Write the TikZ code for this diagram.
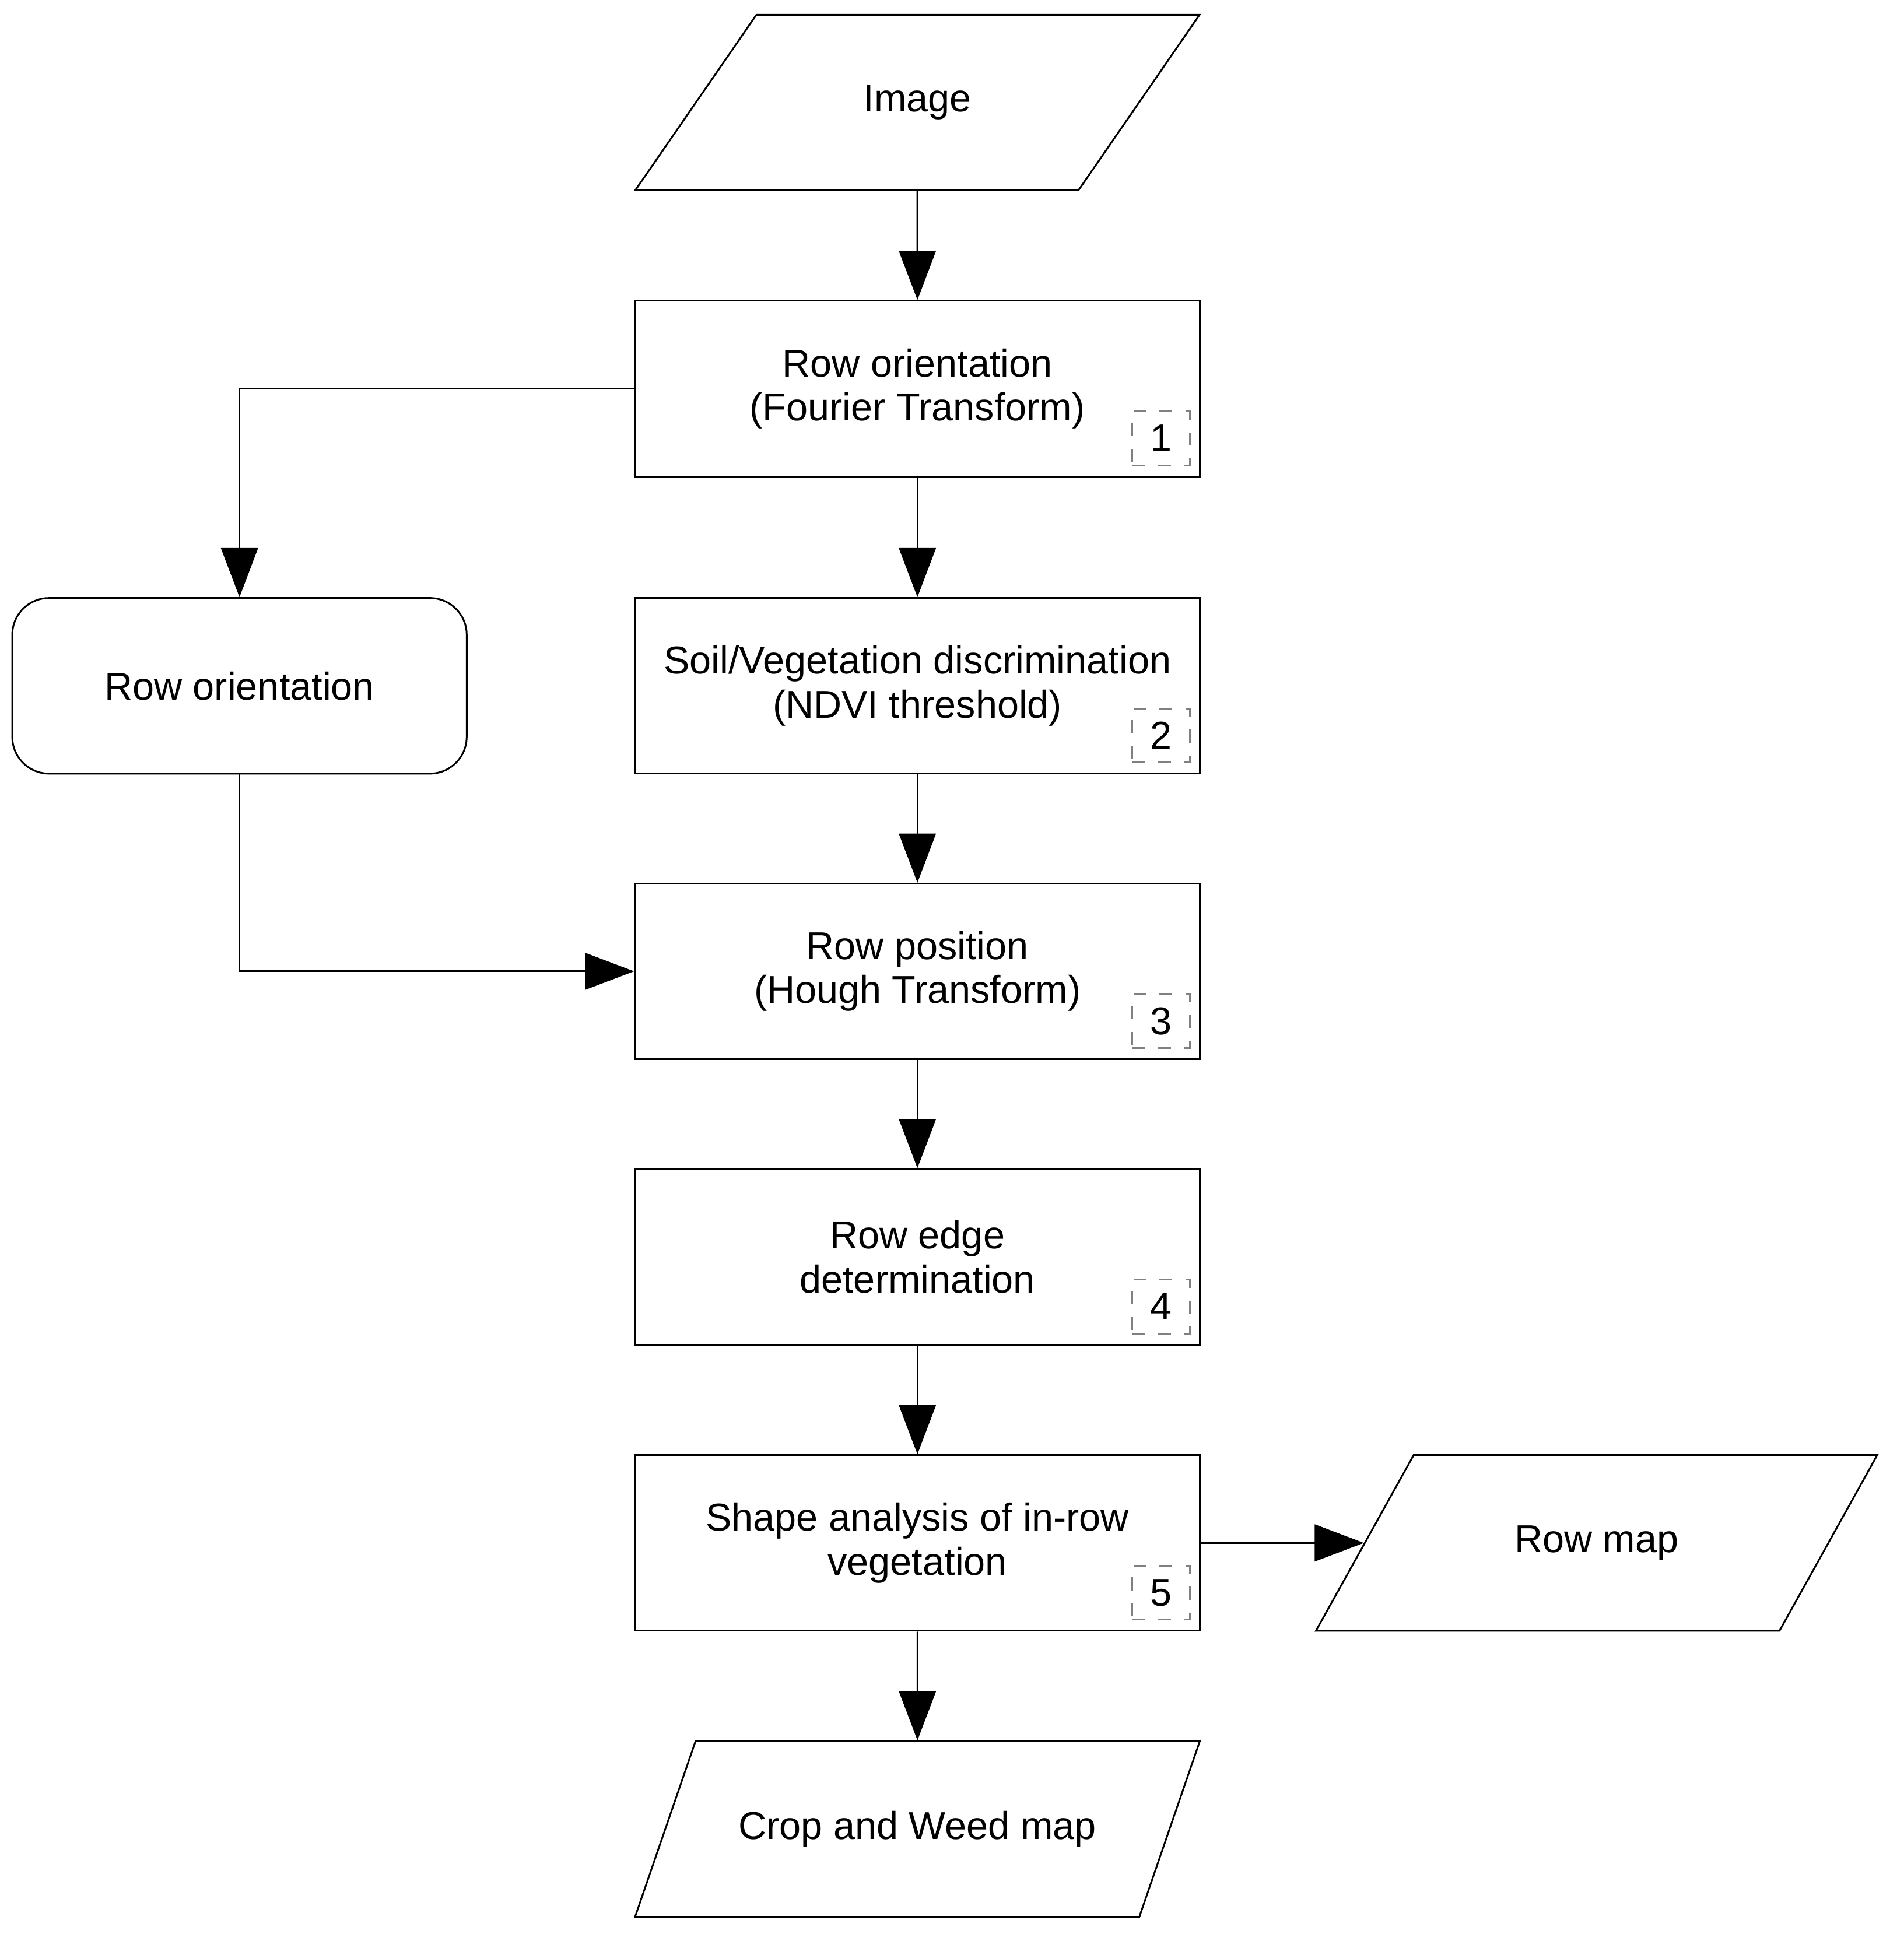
\documentclass[tikz,border=0pt]{standalone}
\usepackage{fontspec}
\setmainfont{Liberation Sans}
\usetikzlibrary{arrows.meta,positioning,shapes.geometric}

\begin{document}
\begin{tikzpicture}[
    font=\fontsize{9}{10.2}\selectfont,
    step-box/.style={draw, thin, minimum width=4.6cm, minimum height=1.43cm, align=center},
    io-box/.style={draw, thin, trapezium, trapezium left angle=51, trapezium right angle=129,
        trapezium stretches=true, minimum width=4.6cm, minimum height=1.43cm, align=center},
    side-box/.style={draw, thin, rounded corners=0.3cm, minimum width=3.7cm, minimum height=1.43cm, align=center},
    num-box/.style={draw, dashed, gray, minimum width=0.47cm, minimum height=0.44cm, inner sep=0pt, text=black},
    flow/.style={-{Triangle[length=0.4cm,width=0.3cm]}, thin}
]
    \useasboundingbox (0,0) rectangle (15.5,-15.75);

    \node[io-box] (image) at (7.47,-0.835) {Image};
    \node[step-box] (b1) at (7.47,-3.165) {Row orientation\\(Fourier Transform)};
    \node[step-box] (b2) at (7.47,-5.585) {Soil/Vegetation discrimination\\(NDVI threshold)};
    \node[step-box] (b3) at (7.47,-7.91) {Row position\\(Hough Transform)};
    \node[step-box] (b4) at (7.47,-10.235) {Row edge\\determination};
    \node[step-box] (b5) at (7.47,-12.565) {Shape analysis of in-row\\vegetation};
    \node[io-box] (cropmap) at (7.47,-14.895) {Crop and Weed map};
    \node[io-box] (rowmap) at (13.0,-12.565) {Row map};
    \node[side-box] (orient) at (1.95,-5.585) {Row orientation};

    % step numbers
    \foreach \b/\n in {b1/1,b2/2,b3/3,b4/4,b5/5}
        \node[num-box, anchor=south east] (\b-num) at ([xshift=-0.08cm,yshift=0.09cm]\b.south east) {\n};

    \draw[flow] (image) -- (b1);
    \draw[flow] (b1) -- (b2);
    \draw[flow] (b2) -- (b3);
    \draw[flow] (b3) -- (b4);
    \draw[flow] (b4) -- (b5);
    \draw[flow] (b5) -- (cropmap);
    \draw[flow] (b5.east) -- (rowmap);
    \draw[flow] (b1.west) -| (orient.north);
    \draw[flow] (orient.south) |- (b3.west);
\end{tikzpicture}
\end{document}
